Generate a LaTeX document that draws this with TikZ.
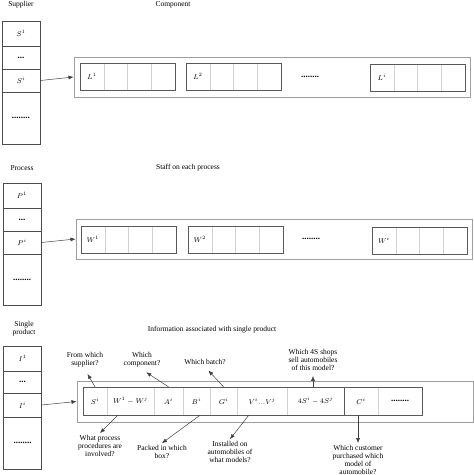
\documentclass[tikz,border=0pt]{standalone}
\usepackage{fontspec}
\setmainfont{Liberation Serif}
\usetikzlibrary{arrows.meta}

\tikzset{
  colcell/.style={draw=black!70, minimum width=38pt, inner sep=0pt},
  cell/.style={draw=gray!35, minimum width=23.75pt, minimum height=27pt, inner sep=0pt},
  frame/.style={draw=black!65, minimum height=27pt, inner sep=0pt},
  holder/.style={draw=gray!75, line width=0.9pt, minimum width=396pt, minimum height=40pt, inner sep=0pt},
  ask/.style={align=center, inner sep=2pt},
  link/.style={-{Latex[length=5pt,width=4pt]}, black!75, line width=0.5pt},
  dotrow/.style={font=\fontsize{9}{9}\selectfont\bfseries}
}

\begin{document}
\begin{tikzpicture}[x=1pt,y=-1pt,font=\fontsize{7.5}{8}\selectfont]
\useasboundingbox (0,0) rectangle (474,475);

% supplier -> component
\node (supT) at (21,5) {Supplier};
\node (comT) at (173,5) {Component};

\node[colcell, minimum height=25pt] (sup1) at (21,33.5) {$S^1$};
\node[colcell, minimum height=23pt, dotrow] (supd) at (21,57.5) {...};
\node[colcell, minimum height=23pt] (supi) at (21,80.5) {$S^i$};
\node[colcell, minimum height=52pt, dotrow] (supm) at (21,118) {........};

\node[holder] (comp) at (272,77) {};

\node[cell] (l1a) at (91.9,76.5) {$L^1$};
\node[cell] (l1b) at (115.6,76.5) {};
\node[cell] (l1c) at (139.4,76.5) {};
\node[cell] (l1d) at (163.1,76.5) {};
\node[frame, minimum width=95pt] (l1) at (127.5,76.5) {};

\node[cell] (l2a) at (197.9,76.5) {$L^2$};
\node[cell] (l2b) at (221.6,76.5) {};
\node[cell] (l2c) at (245.4,76.5) {};
\node[cell] (l2d) at (269.1,76.5) {};
\node[frame, minimum width=95pt] (l2) at (233.5,76.5) {};

\node[dotrow] (comd) at (310,77) {........};

\node[cell] (lia) at (381.9,77.5) {$L^i$};
\node[cell] (lib) at (405.6,77.5) {};
\node[cell] (lic) at (429.4,77.5) {};
\node[cell] (lid) at (453.1,77.5) {};
\node[frame, minimum width=95pt] (li) at (417.5,77.5) {};

\draw[link] (supi.east) -- (comp.west);

% process -> staff
\node (proT) at (22,168) {Process};
\node (staT) at (188,168) {Staff on each process};

\node[colcell, minimum height=25pt] (pro1) at (22,195.5) {$P^1$};
\node[colcell, minimum height=23pt, dotrow] (prod) at (22,219.5) {...};
\node[colcell, minimum height=23pt] (proi) at (22,242.5) {$P^i$};
\node[colcell, minimum height=51pt, dotrow] (prom) at (22,279.5) {........};

\node[holder] (staff) at (274,239) {};

\node[cell] (w1a) at (92.9,239.5) {$W^1$};
\node[cell] (w1b) at (116.6,239.5) {};
\node[cell] (w1c) at (140.4,239.5) {};
\node[cell] (w1d) at (164.1,239.5) {};
\node[frame, minimum width=95pt] (w1) at (128.5,239.5) {};

\node[cell] (w2a) at (199.9,239.5) {$W^2$};
\node[cell] (w2b) at (223.6,239.5) {};
\node[cell] (w2c) at (247.4,239.5) {};
\node[cell] (w2d) at (271.1,239.5) {};
\node[frame, minimum width=95pt] (w2) at (235.5,239.5) {};

\node[dotrow] (stad) at (311,239) {........};

\node[cell] (wia) at (383.9,240.5) {$W^i$};
\node[cell] (wib) at (407.6,240.5) {};
\node[cell] (wic) at (431.4,240.5) {};
\node[cell] (wid) at (455.1,240.5) {};
\node[frame, minimum width=95pt] (wi) at (419.5,240.5) {};

\draw[link] (proi.east) -- (staff.west);

% single product -> information
\node[align=center] (sinT) at (24,329) {Single\\product};
\node (infT) at (212,330) {Information associated with single product};

\node[colcell, minimum height=25pt] (ite1) at (22.5,358.5) {$I^1$};
\node[colcell, minimum height=22pt, dotrow] (ited) at (22.5,382) {...};
\node[colcell, minimum height=24pt] (itei) at (22.5,405) {$I^i$};
\node[colcell, minimum height=52pt, dotrow] (item) at (22.5,443) {........};

\node[holder, minimum height=41pt] (info) at (275,401.5) {};

\node[cell, minimum height=28pt, minimum width=24pt] (sS) at (95,401) {$S^i$};
\node[cell, minimum height=28pt, minimum width=47pt] (sW) at (130.5,401) {$W^1-W^j$};
\node[cell, minimum height=28pt, minimum width=29pt] (sA) at (168.5,401) {$A^i$};
\node[cell, minimum height=28pt, minimum width=27pt] (sB) at (196.5,401) {$B^i$};
\node[cell, minimum height=28pt, minimum width=27pt] (sG) at (223.5,401) {$G^i$};
\node[cell, minimum height=28pt, minimum width=50pt] (sV) at (262,401) {$V^i...V^j$};
\node[cell, minimum height=28pt, minimum width=57pt] (s4S) at (315.5,401) {$4S^i-4S^j$};
\node[cell, minimum height=28pt, minimum width=34pt] (sC) at (361,401) {$C^i$};
\node[cell, minimum height=28pt, minimum width=44pt, dotrow] (sD) at (400,401) {........};
\node[frame, minimum height=28pt, minimum width=261pt] (rowa) at (213.5,401) {};
\node[frame, minimum height=28pt, minimum width=78pt] (rowb) at (383,401) {};

\draw[link] (itei.east) -- (info.west);

% questions
\node[ask] (qS) at (85,360) {From which\\supplier?};
\node[ask] (qA) at (142,360) {Which\\component?};
\node[ask] (qG) at (205,362) {Which batch?};
\node[ask] (q4S) at (313,360) {Which 4S shops\\sell automobiles\\of this model?};
\node[ask] (qW) at (100,446) {What process\\procedures are\\involved?};
\node[ask] (qB) at (162,452) {Packed in which\\box?};
\node[ask] (qV) at (230,452) {Installed on\\automobiles of\\what models?};
\node[ask] (qC) at (358,460) {Which customer\\purchased which\\model of\\automobile?};

\draw[link, shorten >=5pt] (sS.north) -- (qS.south);
\draw[link, shorten >=5pt] (sA.north) -- (qA.south);
\draw[link, shorten >=5pt] (sG.north) -- (qG.south);
\draw[link, shorten >=3pt] (s4S.north -| q4S.south) -- (q4S.south);
\draw[link] (sW.-132) -- (qW.north);
\draw[link] (sB.-76) -- (qB.north);
\draw[link] (sV.-133) -- (qV.north);
\draw[link] (sC.south -| qC.north) -- (qC.north);
\end{tikzpicture}
\end{document}
